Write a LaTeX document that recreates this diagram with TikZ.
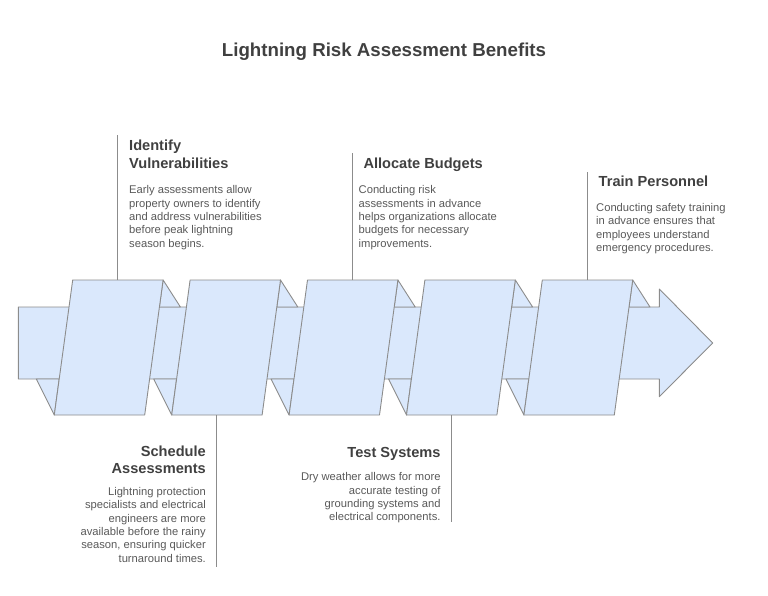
\documentclass[tikz,border=0pt]{standalone}
\usepackage{fontspec}
\setmainfont{Liberation Sans}
\definecolor{fillb}{RGB}{218,232,252}
\definecolor{edgec}{RGB}{140,140,140}
\definecolor{headc}{RGB}{64,64,64}
\definecolor{bodyc}{RGB}{89,89,89}
\newcommand\hstrut{\rule{0pt}{12pt}}
\newcommand\bstrut{\rule{0pt}{10pt}}
\tikzset{
  bandshape/.style={fill=fillb, draw=edgec, line width=0.9pt, line join=round},
  stemline/.style={draw=edgec, line width=0.9pt},
  headtxt/.style={font=\bfseries\fontsize{14.6}{17.6}\selectfont, text=headc, inner sep=0pt},
  bodytxt/.style={font=\fontsize{11.2}{13.4}\selectfont, text=bodyc, inner sep=0pt},
  titletxt/.style={font=\bfseries\fontsize{18.7}{22}\selectfont, text=headc, inner sep=0pt},
}
\begin{document}
\begin{tikzpicture}[x=1pt,y=-1pt]
\useasboundingbox (0,0) rectangle (768,596);

\node[titletxt, anchor=base] (title) at (384,56.5) {Lightning Risk Assessment Benefits};

% band with arrow head
\draw[bandshape] (18.3,307) -- (659.3,307) -- (659.3,289) -- (712.7,343)
  -- (659.3,396.7) -- (659.3,379) -- (18.3,379) -- cycle;

% folds and parallelograms
\foreach \i in {0,...,4}{
  \pgfmathsetmacro\T{72.7+117.4*\i}
  \draw[bandshape] (\T+90.4,280) -- (\T+107.7,307) -- (\T+86.7,307) -- cycle;
  \draw[bandshape] (\T-36.4,379) -- (\T-18.4,415) -- (\T-13.5,379) -- cycle;
  \draw[bandshape] (\T,280) -- (\T+90.4,280) -- (\T+72,415) -- (\T-18.4,415) -- cycle;
}

% stem coordinates
\coordinate (s1a) at (117.9,280); \coordinate (s1b) at (117.9,135);
\coordinate (s2a) at (352.7,280); \coordinate (s2b) at (352.7,153.3);
\coordinate (s3a) at (587.5,280); \coordinate (s3b) at (587.5,172);
\coordinate (s4a) at (216.9,415); \coordinate (s4b) at (216.9,567.3);
\coordinate (s5a) at (451.7,415); \coordinate (s5b) at (451.7,521.7);
\draw[stemline] (s1a) -- (s1b);
\draw[stemline] (s2a) -- (s2b);
\draw[stemline] (s3a) -- (s3b);
\draw[stemline] (s4a) -- (s4b);
\draw[stemline] (s5a) -- (s5b);

% top texts
\node[headtxt, anchor=north west, align=left] (h1) at (129,138.5) {\hstrut Identify\\Vulnerabilities};
\node[bodytxt, anchor=north west, align=left] (b1) at (129,183.4) {\bstrut Early assessments allow\\property owners to identify\\and address vulnerabilities\\before peak lightning\\season begins.};

\node[headtxt, anchor=north west, align=left] (h2) at (363.3,156.2) {\hstrut Allocate Budgets};
\node[bodytxt, anchor=north west, align=left] (b2) at (358.5,183.4) {\bstrut Conducting risk\\assessments in advance\\helps organizations allocate\\budgets for necessary\\improvements.};

\node[headtxt, anchor=north west, align=left] (h3) at (598.5,174.5) {\hstrut Train Personnel};
\node[bodytxt, anchor=north west, align=left] (b3) at (596,201) {\bstrut Conducting safety training\\in advance ensures that\\employees understand\\emergency procedures.};

% bottom texts
\node[headtxt, anchor=north east, align=right] (h4) at (206,444) {\hstrut Schedule\\Assessments};
\node[bodytxt, anchor=north east, align=right] (b4) at (206,485) {\bstrut Lightning protection\\specialists and electrical\\engineers are more\\available before the rainy\\season, ensuring quicker\\turnaround times.};

\node[headtxt, anchor=north east, align=right] (h5) at (440.7,445) {\hstrut Test Systems};
\node[bodytxt, anchor=north east, align=right] (b5) at (440.7,470.5) {\bstrut Dry weather allows for more\\accurate testing of\\grounding systems and\\electrical components.};
\end{tikzpicture}
\end{document}
